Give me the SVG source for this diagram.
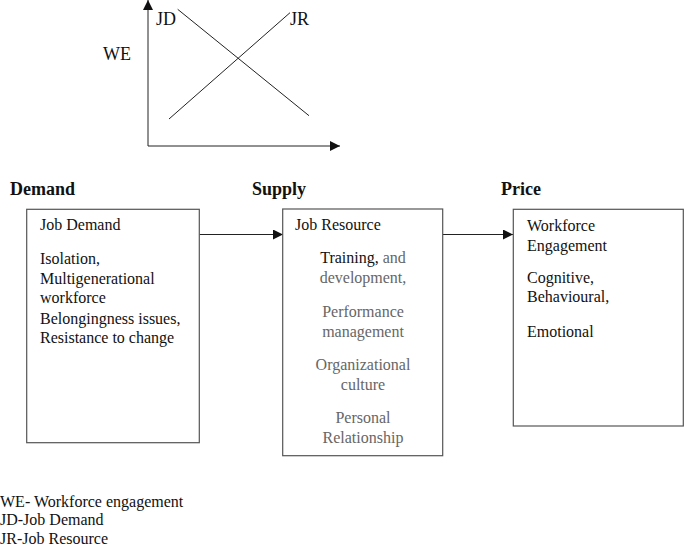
<svg xmlns="http://www.w3.org/2000/svg" width="685" height="549" viewBox="0 0 685 549">
<style>
text{font-family:"Liberation Serif","Times New Roman",serif;font-size:16px;fill:#111}
.h{font-weight:bold;font-size:18px}
.g{fill:#666}
.c{text-anchor:middle}
.ax{font-size:18px}
.box{fill:#fff;stroke:#555;stroke-width:1.2}
.ln{stroke:#222;stroke-width:1;fill:none}
</style>
<defs>
<marker id="ar" viewBox="0 0 10 10" refX="10" refY="5" markerWidth="10" markerHeight="10" markerUnits="userSpaceOnUse" orient="auto">
<path d="M0,0L10,5L0,10z" fill="#111"/>
</marker>
</defs>
<g id="chart">
<line class="ln" x1="148" y1="146" x2="148" y2="0" marker-end="url(#ar)"/>
<line class="ln" x1="148" y1="146" x2="340" y2="146" marker-end="url(#ar)"/>
<line class="ln" x1="177.7" y1="9.3" x2="309" y2="115.7"/>
<line class="ln" x1="169" y1="119" x2="290" y2="12.7"/>
<text class="ax" x="156" y="25">JD</text>
<text class="ax" x="290" y="25">JR</text>
<text class="ax" x="103" y="60">WE</text>
</g>
<g id="headings">
<text class="h" x="10" y="195">Demand</text>
<text class="h" x="252" y="195">Supply</text>
<text class="h" x="501" y="195">Price</text>
</g>
<g id="connectors">
<line class="ln" x1="199.5" y1="234.5" x2="283" y2="234.5" marker-end="url(#ar)"/>
<line class="ln" x1="443" y1="234.5" x2="513" y2="234.5" marker-end="url(#ar)"/>
</g>
<g id="demand">
<rect class="box" x="26.7" y="209.3" width="172.6" height="233.4"/>
<text x="40" y="230">Job Demand</text>
<text x="40" y="264">Isolation,</text>
<text x="40" y="283.5">Multigenerational</text>
<text x="40" y="303">workforce</text>
<text x="40" y="323.5">Belongingness issues,</text>
<text x="40" y="343">Resistance to change</text>
</g>
<g id="supply">
<rect class="box" x="282.7" y="209" width="160" height="246.7"/>
<text x="295" y="230">Job Resource</text>
<text class="c" x="363" y="263.3">Training,<tspan class="g"> and</tspan></text>
<text class="c g" x="363" y="283.3">development,</text>
<text class="c g" x="363" y="316.7">Performance</text>
<text class="c g" x="363" y="336.7">management</text>
<text class="c g" x="363" y="370">Organizational</text>
<text class="c g" x="363" y="390">culture</text>
<text class="c g" x="363" y="423.3">Personal</text>
<text class="c g" x="363" y="443.3">Relationship</text>
</g>
<g id="price">
<rect class="box" x="513.3" y="209.3" width="170" height="216.7"/>
<text x="527" y="230.5">Workforce</text>
<text x="527" y="250.5">Engagement</text>
<text x="527" y="282.5">Cognitive,</text>
<text x="527" y="301.5">Behavioural,</text>
<text x="527" y="337">Emotional</text>
</g>
<g id="legend">
<text x="0" y="506.5">WE- Workforce engagement</text>
<text x="0" y="525">JD-Job Demand</text>
<text x="0" y="543.5">JR-Job Resource</text>
</g>
</svg>
